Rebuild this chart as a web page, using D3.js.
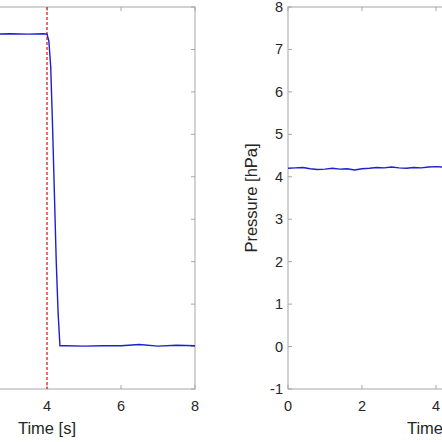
<!DOCTYPE html><html><head><script src="https://d3js.org/d3.v7.min.js"></script>
<style>body{margin:0;background:#fff}text{font-family:"Liberation Sans",Arial,sans-serif;fill:#262626}</style></head><body>
<svg id="c" width="442" height="442"></svg>
<script>
const xTicks=[0,2,4,6,8];
const yTicks=[-1,0,1,2,3,4,5,6,7,8];
const leftT=[0,0.5,1,1.5,2,2.5,3,3.5,3.9,4.0,4.05,4.1,4.15,4.2,4.25,4.3,4.35,4.5,5,5.5,6,6.5,7,7.5,8];
const leftV=[7.36,7.37,7.35,7.36,7.38,7.36,7.37,7.36,7.37,7.36,7.2,6.6,5.2,3.6,2.0,0.8,0.02,0.02,0.01,0.02,0.02,0.05,0.01,0.03,0.02];
const rightT=[0,0.2,0.4,0.6,0.8,1,1.2,1.4,1.6,1.8,2,2.2,2.4,2.6,2.8,3,3.2,3.4,3.6,3.8,4,4.2];
const rightV=[4.2,4.21,4.22,4.19,4.17,4.18,4.2,4.18,4.19,4.16,4.19,4.2,4.22,4.21,4.23,4.21,4.2,4.22,4.21,4.23,4.24,4.23];
const svg=d3.select("#c");
const y=d3.scaleLinear().domain([-1,8]).range([389,7]);
function panel(x,t,v,showLeft,vline){
  const g=svg.append("g");
  const [x0,x1]=x.range();
  g.append("rect").attr("x",x0).attr("y",7).attr("width",x1-x0).attr("height",382).attr("fill","none").attr("stroke","#a6a6a6");
  xTicks.forEach(d=>{const px=x(d);
    g.append("line").attr("x1",px).attr("x2",px).attr("y1",389).attr("y2",385).attr("stroke","#a6a6a6");
    g.append("line").attr("x1",px).attr("x2",px).attr("y1",7).attr("y2",11).attr("stroke","#a6a6a6");
    g.append("text").attr("x",px).attr("y",411).attr("text-anchor","middle").attr("font-size",14.5).text(d);});
  yTicks.forEach(d=>{const py=y(d);
    g.append("line").attr("x1",x0).attr("x2",x0+4).attr("y1",py).attr("y2",py).attr("stroke","#a6a6a6");
    g.append("line").attr("x1",x1).attr("x2",x1-4).attr("y1",py).attr("y2",py).attr("stroke","#a6a6a6");
    if(showLeft) g.append("text").attr("x",x0-5).attr("y",py+5).attr("text-anchor","end").attr("font-size",14.5).text(d);});
  if(vline!==undefined) g.append("line").attr("x1",x(vline)).attr("x2",x(vline)).attr("y1",7).attr("y2",389).attr("stroke","#e02020").attr("stroke-width",1.3).attr("stroke-dasharray","3,2");
  g.append("path").datum(t.map((d,i)=>[d,v[i]])).attr("d",d3.line().x(d=>x(d[0])).y(d=>y(d[1]))).attr("fill","none").attr("stroke","#1f1fd0").attr("stroke-width",1.4);
  g.append("text").attr("x",(x0+x1)/2).attr("y",434).attr("text-anchor","middle").attr("font-size",16.5).text("Time [s]");
  if(showLeft) g.append("text").attr("transform",`translate(${x0-31},${y(3.5)}) rotate(-90)`).attr("text-anchor","middle").attr("font-size",16.5).text("Pressure [hPa]");
}
panel(d3.scaleLinear().domain([0,8]).range([-101,195]),leftT,leftV,false,4);
panel(d3.scaleLinear().domain([0,8]).range([288,584]),rightT,rightV,true);
</script></body></html>
